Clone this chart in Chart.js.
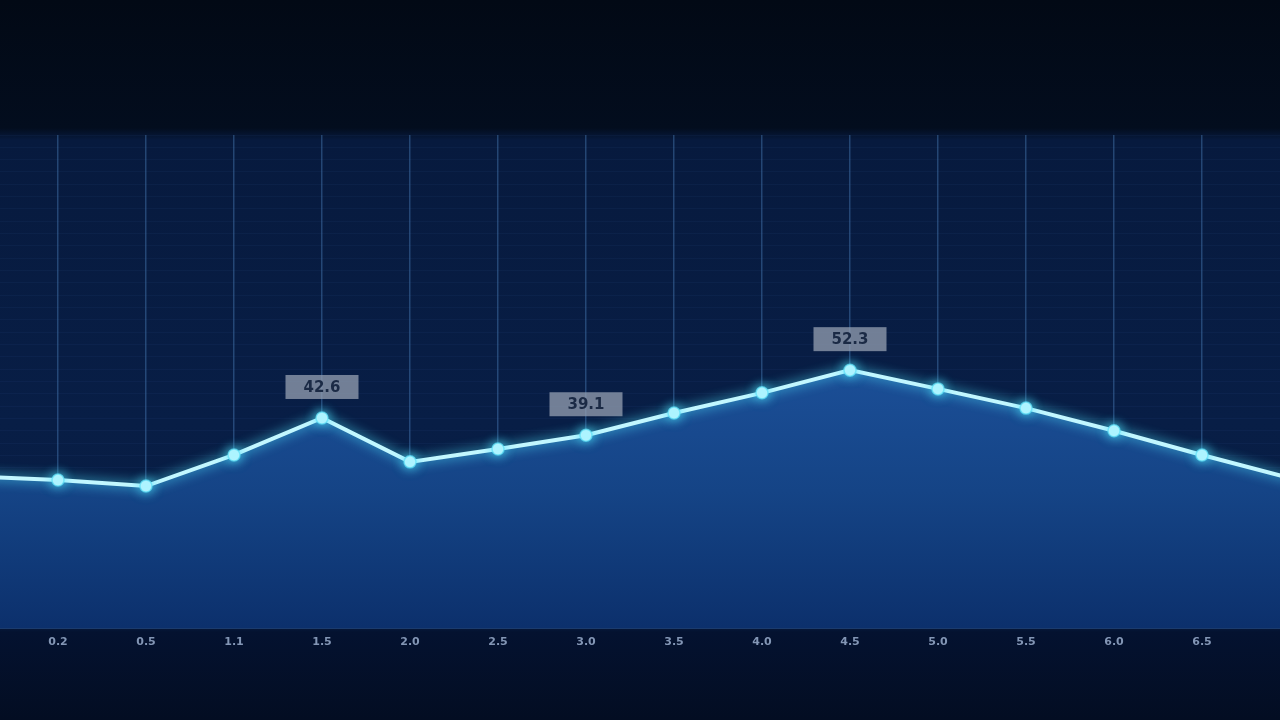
<!DOCTYPE html>
<html>
<head>
<meta charset="utf-8">
<script src="https://cdn.jsdelivr.net/npm/chart.js@4"></script>
<style>
  html, body { margin: 0; padding: 0; width: 1280px; height: 720px; overflow: hidden; }
  body {
    background: linear-gradient(to bottom, #020915 0px, #030d1e 128px, #071a3e 140px, #081e46 420px, #071c42 625px, #041230 632px, #030d22 720px);
  }
  #wrap { position: absolute; left: -30px; top: 0; width: 1320px; height: 720px; }
</style>
</head>
<body>
<div id="wrap"><canvas id="grafico"></canvas></div>
<script>
// categorias (la primera y la ultima quedan fuera de la ventana)
const etiquetas = ['0.0', '0.2', '0.5', '1.1', '1.5', '2.0', '2.5', '3.0', '3.5', '4.0', '4.5', '5.0', '5.5', '6.0', '6.5', '7.0'];
const valores = [30.8, 30.0, 28.8, 35.1, 42.6, 33.7, 36.3, 39.1, 43.6, 47.7, 52.3, 48.5, 44.6, 40.0, 35.1, 30.4];
// puntos con caja de texto encima
const notasIdx = [4, 7, 10];
const notasTxt = ['42.6', '39.1', '52.3'];

const brillo = {
  id: 'brillo',
  beforeDatasetDraw(chart, args) {
    if (args.index === 1) {
      chart.ctx.save();
      chart.ctx.shadowColor = 'rgba(80,230,255,0.95)';
      chart.ctx.shadowBlur = 12;
    }
  },
  afterDatasetDraw(chart, args) {
    if (args.index === 1) chart.ctx.restore();
  }
};

const notas = {
  id: 'notas',
  afterDatasetsDraw(chart) {
    const ctx = chart.ctx, x = chart.scales.x, y = chart.scales.y;
    ctx.save();
    ctx.font = 'bold 15px "DejaVu Sans"';
    ctx.textAlign = 'center';
    ctx.textBaseline = 'middle';
    notasIdx.forEach((idx, i) => {
      const px = x.getPixelForValue(idx);
      const py = y.getPixelForValue(valores[idx]) - 31;
      const w = ctx.measureText(notasTxt[i]).width + 36;
      ctx.fillStyle = 'rgba(150,160,178,0.75)';
      ctx.fillRect(px - w / 2, py - 12, w, 24);
      ctx.fillStyle = '#1b2a45';
      ctx.fillText(notasTxt[i], px, py + 1);
    });
    ctx.restore();
  }
};

// los puntos de los extremos quedan fuera, sin radio para no sumar margen
function radio(c) {
  return (c.dataIndex === 0 || c.dataIndex === valores.length - 1) ? 0 : 6;
}

const ctx = document.getElementById('grafico').getContext('2d');
new Chart(ctx, {
  type: 'line',
  data: {
    labels: etiquetas,
    datasets: [
      {
        data: valores,
        order: 2,
        borderWidth: 0,
        pointRadius: 0,
        fill: 'start',
        backgroundColor: function (c) {
          const a = c.chart.chartArea;
          if (!a) return '#123d7a';
          const g = c.chart.ctx.createLinearGradient(0, a.top + 220, 0, a.bottom);
          g.addColorStop(0, '#1c5099');
          g.addColorStop(0.5, '#154486');
          g.addColorStop(1, '#0c306c');
          return g;
        }
      },
      {
        data: valores,
        order: 1,
        borderColor: '#c2f7ff',
        borderWidth: 4,
        fill: false,
        tension: 0,
        pointRadius: radio,
        pointBackgroundColor: '#b8f6ff',
        pointBorderColor: 'rgba(94,224,247,0.7)',
        pointBorderWidth: 1.5
      }
    ]
  },
  options: {
    responsive: true,
    maintainAspectRatio: false,
    animation: false,
    layout: { padding: { top: 135, left: 0, right: 0, bottom: 0 } },
    plugins: { legend: { display: false }, tooltip: { enabled: false } },
    scales: {
      x: {
        offset: false,
        grid: { color: 'rgba(95,155,220,0.34)', lineWidth: 1.5, drawTicks: false },
        border: { color: 'rgba(70,130,210,0.6)', width: 1.5 },
        ticks: { color: '#8396b5', font: { family: 'DejaVu Sans', size: 11, weight: 'bold' }, padding: 8, maxRotation: 0, autoSkip: false },
        afterFit(s) { s.height = 92; s.paddingLeft = 0; s.paddingRight = 0; }
      },
      y: {
        min: 0,
        max: 100,
        ticks: { display: false, stepSize: 2.5 },
        grid: { color: 'rgba(70,120,190,0.07)', drawTicks: false },
        border: { display: false },
        afterFit(s) { s.width = 0; s.paddingTop = 0; s.paddingBottom = 0; }
      }
    }
  },
  plugins: [brillo, notas]
});
</script>
</body>
</html>
